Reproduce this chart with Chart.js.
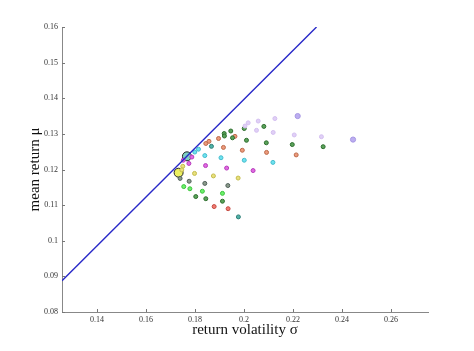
<!DOCTYPE html>
<html>
<head>
<meta charset="utf-8">
<script src="https://cdn.jsdelivr.net/npm/chart.js"></script>
<style>
  html, body { margin: 0; padding: 0; background: #fff; }
  #wrap { width: 474px; height: 351px; }
</style>
</head>
<body>
<div id="wrap"><canvas id="c"></canvas></div>
<script>
// axis ticks
const xTicks = [0.14, 0.16, 0.18, 0.2, 0.22, 0.24, 0.26];
const yTicks = [0.08, 0.09, 0.1, 0.11, 0.12, 0.13, 0.14, 0.15, 0.16];

// tangent (capital market) line end points
const tangentLine = [[0.1257, 0.0888], [0.2296, 0.16]];

// portfolio groups [sigma, mu]
const darkGreenPts = [[0.1919, 0.1301], [0.1946, 0.1308], [0.1920, 0.1294], [0.1953, 0.1289], [0.2001, 0.1315],
  [0.2081, 0.1321], [0.2010, 0.1282], [0.2091, 0.1275], [0.2197, 0.1270], [0.2323, 0.1264],
  [0.1803, 0.1124], [0.1844, 0.1118], [0.1912, 0.1111]];
const orangePts = [[0.1844, 0.1273], [0.1857, 0.1279], [0.1896, 0.1287], [0.1963, 0.1293], [0.1916, 0.1262],
  [0.1993, 0.1254], [0.2092, 0.1248], [0.2213, 0.1241]];
const tealPts = [[0.1867, 0.1265], [0.1977, 0.1067]];
const cyanPts = [[0.1799, 0.1249], [0.1814, 0.1257], [0.1840, 0.1239], [0.1906, 0.1233], [0.2001, 0.1226], [0.2118, 0.1220]];
const magentaPts = [[0.1752, 0.1226], [0.1787, 0.1235], [0.1775, 0.1217], [0.1843, 0.1211], [0.1929, 0.1204], [0.2037, 0.1197]];
const yellowPts = [[0.1750, 0.1209], [0.1746, 0.1199], [0.1798, 0.1189], [0.1875, 0.1182], [0.1976, 0.1176]];
const grayPts = [[0.1739, 0.1175], [0.1776, 0.1167], [0.1840, 0.1161], [0.1934, 0.1155]];
const brightGreenPts = [[0.1754, 0.1152], [0.1779, 0.1146], [0.1830, 0.1139], [0.1912, 0.1133]];
const redPts = [[0.1878, 0.1096], [0.1935, 0.1090]];
const paleVioletPts = [[0.2004, 0.1322], [0.2017, 0.1331], [0.2058, 0.1336], [0.2126, 0.1343], [0.2051, 0.1310],
  [0.2119, 0.1304], [0.2205, 0.1297], [0.2316, 0.1292]];
const lavenderPts = [[0.2219, 0.1350], [0.2445, 0.1284]];

// highlighted portfolios
const tangencyPt = [[0.1767, 0.1237]];
const minVarPt = [[0.1733, 0.1191]];

const toXY = arr => arr.map(p => ({ x: p[0], y: p[1] }));

function dots(pts, fill, edge, r) {
  return {
    data: toXY(pts),
    showLine: false,
    pointRadius: r || 2,
    pointBackgroundColor: fill,
    pointBorderColor: edge,
    pointBorderWidth: 1
  };
}

const serif = '"Liberation Serif", "DejaVu Serif", serif';

// draw short inward tick marks like the original
const inwardTicks = {
  id: 'inwardTicks',
  afterDraw(chart) {
    const ctx = chart.ctx;
    const xs = chart.scales.x, ys = chart.scales.y;
    const a = chart.chartArea;
    ctx.save();
    ctx.strokeStyle = '#777';
    ctx.lineWidth = 1;
    ctx.beginPath();
    xTicks.forEach(v => {
      const px = Math.round(xs.getPixelForValue(v)) + 0.5;
      ctx.moveTo(px, a.bottom);
      ctx.lineTo(px, a.bottom - 3);
    });
    yTicks.forEach(v => {
      const py = Math.round(ys.getPixelForValue(v)) + 0.5;
      ctx.moveTo(a.left, py);
      ctx.lineTo(a.left + 3, py);
    });
    ctx.stroke();
    ctx.restore();
  }
};

new Chart(document.getElementById('c'), {
  type: 'scatter',
  data: {
    datasets: [
      {
        data: toXY(tangentLine),
        showLine: true,
        borderColor: '#2828c8',
        borderWidth: 1.4,
        pointRadius: 0
      },
      dots(paleVioletPts, '#e0d0f6', '#d4bff0'),
      dots(lavenderPts, '#bcaef0', '#a898e4', 2.6),
      dots(darkGreenPts, '#5aa25a', '#2e6e2e'),
      dots(orangePts, '#ec9a7c', '#bc6a4a'),
      dots(tealPts, '#50b2a8', '#2e7e76'),
      dots(cyanPts, '#6ee2f0', '#44bccc'),
      dots(magentaPts, '#e06ae0', '#b63cbc'),
      dots(yellowPts, '#e8e07c', '#c4bc4c'),
      dots(grayPts, '#8a9a8a', '#50605a'),
      dots(brightGreenPts, '#6cf06c', '#3cc43c'),
      dots(redPts, '#f07a70', '#c44a42'),
      dots(tangencyPt, '#7cd0c4', '#222', 4.5),
      dots(minVarPt, '#ecf060', '#222', 4.5)
    ]
  },
  options: {
    responsive: true,
    maintainAspectRatio: false,
    animation: false,
    layout: { padding: { top: 27, right: 46, left: 0, bottom: 0 } },
    plugins: {
      legend: { display: false },
      tooltip: { enabled: false }
    },
    scales: {
      x: {
        type: 'linear',
        min: 0.1257,
        max: 0.2751,
        afterBuildTicks: s => { s.ticks = xTicks.map(v => ({ value: v })); },
        afterFit: s => { s.height = 39; },
        grid: { display: false, drawTicks: false, tickLength: 0 },
        border: { display: true, color: '#888', width: 1 },
        ticks: {
          padding: 3,
          color: '#333',
          font: { family: serif, size: 8 },
          maxRotation: 0,
          callback: v => String(Number(v.toFixed(2)))
        },
        title: {
          display: true,
          text: 'return volatility σ',
          color: '#111',
          font: { family: serif, size: 15 },
          padding: { top: 0, bottom: 12 }
        }
      },
      y: {
        type: 'linear',
        min: 0.08,
        max: 0.16,
        afterBuildTicks: s => { s.ticks = yTicks.map(v => ({ value: v })); },
        afterFit: s => { s.width = 62; },
        grid: { display: false, drawTicks: false, tickLength: 0 },
        border: { display: true, color: '#888', width: 1 },
        ticks: {
          padding: 4,
          color: '#333',
          font: { family: serif, size: 8 },
          callback: v => String(Number(v.toFixed(2)))
        },
        title: {
          display: true,
          text: 'mean return μ',
          color: '#111',
          font: { family: serif, size: 15 },
          padding: { top: 26, bottom: 0 }
        }
      }
    }
  },
  plugins: [inwardTicks]
});
</script>
</body>
</html>
